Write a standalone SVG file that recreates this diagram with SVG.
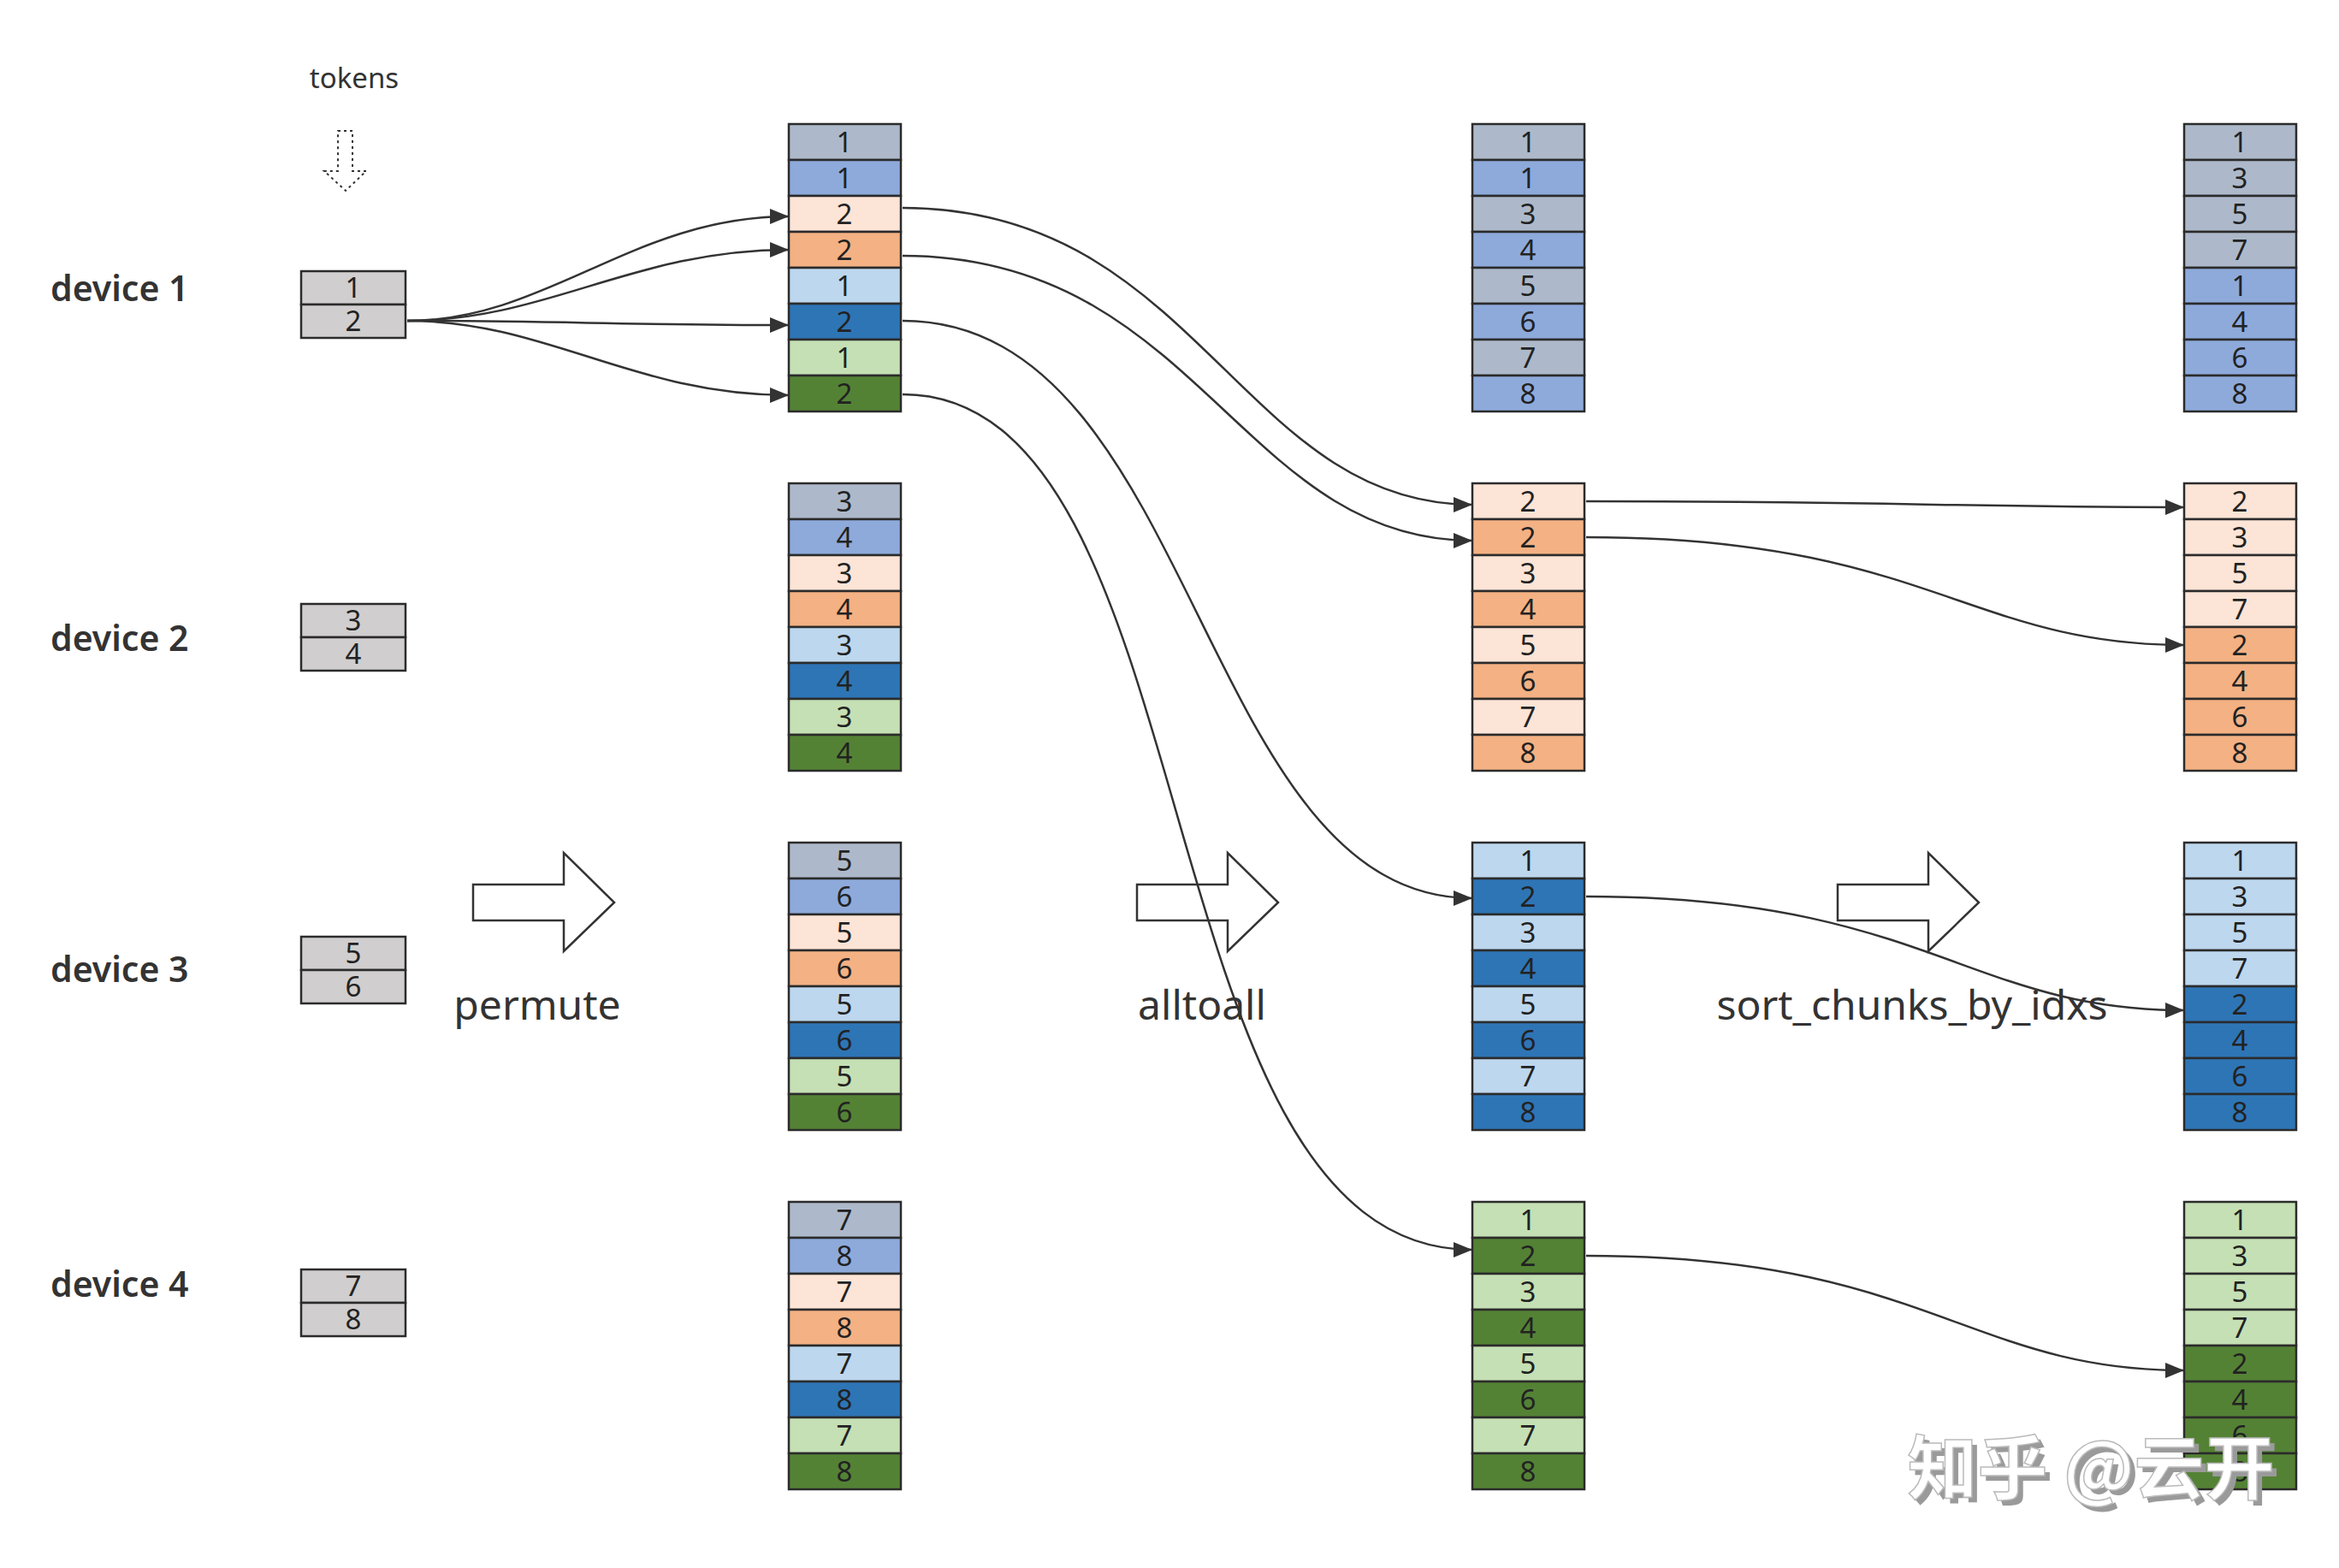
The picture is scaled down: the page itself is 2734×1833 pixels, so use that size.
<svg xmlns="http://www.w3.org/2000/svg" width="2734" height="1833" viewBox="0 0 2734 1833">
<style>
.c rect{stroke:#2b2b2b;stroke-width:2.5}
.c text,.t text{font-family:"Noto Sans","Liberation Sans",sans-serif;font-size:33px;fill:#222;text-anchor:middle}
.gb{fill:#adb9ca}.bl{fill:#8eaadb}.pe{fill:#fce4d6}.or{fill:#f4b183}.lb{fill:#bdd7ee}.db{fill:#2e75b6}.lg{fill:#c5e0b4}.dg{fill:#548235}.gr{fill:#d0cece}
.dev{font-family:"Noto Sans","Liberation Sans",sans-serif;font-size:41px;font-weight:600;fill:#333}
.lab{font-family:"Noto Sans","Liberation Sans",sans-serif;font-size:48px;fill:#333;text-anchor:middle}
.edge{fill:none;stroke:#333;stroke-width:2.5;marker-end:url(#ah)}
.big{fill:#fff;stroke:#333;stroke-width:2.5}
</style>
<defs>
<marker id="ah" markerWidth="22" markerHeight="18" refX="22" refY="9" orient="auto" markerUnits="userSpaceOnUse" viewBox="0 0 22 18"><path d="M0,0 L22,9 L0,18 z" fill="#333"/></marker>
</defs>
<rect width="2734" height="1833" fill="#fff"/>
<text x="414" y="103" font-family="Noto Sans,Liberation Sans,sans-serif" font-size="33" fill="#333" text-anchor="middle">tokens</text>
<polygon points="395,153 412,153 412,200 428,200 404,223 379,200 395,200" fill="none" stroke="#333" stroke-width="2" stroke-dasharray="3,4"/>
<text class="dev" x="59" y="352">device 1</text>
<text class="dev" x="59" y="761">device 2</text>
<text class="dev" x="59" y="1148">device 3</text>
<text class="dev" x="59" y="1516">device 4</text>

<g id="tok1" class="c"><rect class="gr" x="352" y="317" width="122" height="39"/><rect class="gr" x="352" y="356" width="122" height="39"/><text x="413" y="348">1</text><text x="413" y="387">2</text></g>
<g id="tok2" class="c"><rect class="gr" x="352" y="706" width="122" height="39"/><rect class="gr" x="352" y="745" width="122" height="39"/><text x="413" y="737">3</text><text x="413" y="776">4</text></g>
<g id="tok3" class="c"><rect class="gr" x="352" y="1095" width="122" height="39"/><rect class="gr" x="352" y="1134" width="122" height="39"/><text x="413" y="1126">5</text><text x="413" y="1165">6</text></g>
<g id="tok4" class="c"><rect class="gr" x="352" y="1484" width="122" height="39"/><rect class="gr" x="352" y="1523" width="122" height="39"/><text x="413" y="1515">7</text><text x="413" y="1554">8</text></g>

<g id="perm1" class="c" transform="translate(922,145)">
<rect class="gb" y="0" width="131" height="42"/><rect class="bl" y="42" width="131" height="42"/><rect class="pe" y="84" width="131" height="42"/><rect class="or" y="126" width="131" height="42"/><rect class="lb" y="168" width="131" height="42"/><rect class="db" y="210" width="131" height="42"/><rect class="lg" y="252" width="131" height="42"/><rect class="dg" y="294" width="131" height="42"/>
<text x="65" y="33">1</text><text x="65" y="75">1</text><text x="65" y="117">2</text><text x="65" y="159">2</text><text x="65" y="201">1</text><text x="65" y="243">2</text><text x="65" y="285">1</text><text x="65" y="327">2</text></g>
<g id="perm2" class="c" transform="translate(922,565)">
<rect class="gb" y="0" width="131" height="42"/><rect class="bl" y="42" width="131" height="42"/><rect class="pe" y="84" width="131" height="42"/><rect class="or" y="126" width="131" height="42"/><rect class="lb" y="168" width="131" height="42"/><rect class="db" y="210" width="131" height="42"/><rect class="lg" y="252" width="131" height="42"/><rect class="dg" y="294" width="131" height="42"/>
<text x="65" y="33">3</text><text x="65" y="75">4</text><text x="65" y="117">3</text><text x="65" y="159">4</text><text x="65" y="201">3</text><text x="65" y="243">4</text><text x="65" y="285">3</text><text x="65" y="327">4</text></g>
<g id="perm3" class="c" transform="translate(922,985)">
<rect class="gb" y="0" width="131" height="42"/><rect class="bl" y="42" width="131" height="42"/><rect class="pe" y="84" width="131" height="42"/><rect class="or" y="126" width="131" height="42"/><rect class="lb" y="168" width="131" height="42"/><rect class="db" y="210" width="131" height="42"/><rect class="lg" y="252" width="131" height="42"/><rect class="dg" y="294" width="131" height="42"/>
<text x="65" y="33">5</text><text x="65" y="75">6</text><text x="65" y="117">5</text><text x="65" y="159">6</text><text x="65" y="201">5</text><text x="65" y="243">6</text><text x="65" y="285">5</text><text x="65" y="327">6</text></g>
<g id="perm4" class="c" transform="translate(922,1405)">
<rect class="gb" y="0" width="131" height="42"/><rect class="bl" y="42" width="131" height="42"/><rect class="pe" y="84" width="131" height="42"/><rect class="or" y="126" width="131" height="42"/><rect class="lb" y="168" width="131" height="42"/><rect class="db" y="210" width="131" height="42"/><rect class="lg" y="252" width="131" height="42"/><rect class="dg" y="294" width="131" height="42"/>
<text x="65" y="33">7</text><text x="65" y="75">8</text><text x="65" y="117">7</text><text x="65" y="159">8</text><text x="65" y="201">7</text><text x="65" y="243">8</text><text x="65" y="285">7</text><text x="65" y="327">8</text></g>

<g id="a2a1" class="c" transform="translate(1721,145)">
<rect class="gb" y="0" width="131" height="42"/><rect class="bl" y="42" width="131" height="42"/><rect class="gb" y="84" width="131" height="42"/><rect class="bl" y="126" width="131" height="42"/><rect class="gb" y="168" width="131" height="42"/><rect class="bl" y="210" width="131" height="42"/><rect class="gb" y="252" width="131" height="42"/><rect class="bl" y="294" width="131" height="42"/>
<text x="65" y="33">1</text><text x="65" y="75">1</text><text x="65" y="117">3</text><text x="65" y="159">4</text><text x="65" y="201">5</text><text x="65" y="243">6</text><text x="65" y="285">7</text><text x="65" y="327">8</text></g>
<g id="a2a2" class="c" transform="translate(1721,565)">
<rect class="pe" y="0" width="131" height="42"/><rect class="or" y="42" width="131" height="42"/><rect class="pe" y="84" width="131" height="42"/><rect class="or" y="126" width="131" height="42"/><rect class="pe" y="168" width="131" height="42"/><rect class="or" y="210" width="131" height="42"/><rect class="pe" y="252" width="131" height="42"/><rect class="or" y="294" width="131" height="42"/>
<text x="65" y="33">2</text><text x="65" y="75">2</text><text x="65" y="117">3</text><text x="65" y="159">4</text><text x="65" y="201">5</text><text x="65" y="243">6</text><text x="65" y="285">7</text><text x="65" y="327">8</text></g>
<g id="a2a3" class="c" transform="translate(1721,985)">
<rect class="lb" y="0" width="131" height="42"/><rect class="db" y="42" width="131" height="42"/><rect class="lb" y="84" width="131" height="42"/><rect class="db" y="126" width="131" height="42"/><rect class="lb" y="168" width="131" height="42"/><rect class="db" y="210" width="131" height="42"/><rect class="lb" y="252" width="131" height="42"/><rect class="db" y="294" width="131" height="42"/>
<text x="65" y="33">1</text><text x="65" y="75">2</text><text x="65" y="117">3</text><text x="65" y="159">4</text><text x="65" y="201">5</text><text x="65" y="243">6</text><text x="65" y="285">7</text><text x="65" y="327">8</text></g>
<g id="a2a4" class="c" transform="translate(1721,1405)">
<rect class="lg" y="0" width="131" height="42"/><rect class="dg" y="42" width="131" height="42"/><rect class="lg" y="84" width="131" height="42"/><rect class="dg" y="126" width="131" height="42"/><rect class="lg" y="168" width="131" height="42"/><rect class="dg" y="210" width="131" height="42"/><rect class="lg" y="252" width="131" height="42"/><rect class="dg" y="294" width="131" height="42"/>
<text x="65" y="33">1</text><text x="65" y="75">2</text><text x="65" y="117">3</text><text x="65" y="159">4</text><text x="65" y="201">5</text><text x="65" y="243">6</text><text x="65" y="285">7</text><text x="65" y="327">8</text></g>

<g id="sort1" class="c" transform="translate(2553,145)">
<rect class="gb" y="0" width="131" height="42"/><rect class="gb" y="42" width="131" height="42"/><rect class="gb" y="84" width="131" height="42"/><rect class="gb" y="126" width="131" height="42"/><rect class="bl" y="168" width="131" height="42"/><rect class="bl" y="210" width="131" height="42"/><rect class="bl" y="252" width="131" height="42"/><rect class="bl" y="294" width="131" height="42"/>
<text x="65" y="33">1</text><text x="65" y="75">3</text><text x="65" y="117">5</text><text x="65" y="159">7</text><text x="65" y="201">1</text><text x="65" y="243">4</text><text x="65" y="285">6</text><text x="65" y="327">8</text></g>
<g id="sort2" class="c" transform="translate(2553,565)">
<rect class="pe" y="0" width="131" height="42"/><rect class="pe" y="42" width="131" height="42"/><rect class="pe" y="84" width="131" height="42"/><rect class="pe" y="126" width="131" height="42"/><rect class="or" y="168" width="131" height="42"/><rect class="or" y="210" width="131" height="42"/><rect class="or" y="252" width="131" height="42"/><rect class="or" y="294" width="131" height="42"/>
<text x="65" y="33">2</text><text x="65" y="75">3</text><text x="65" y="117">5</text><text x="65" y="159">7</text><text x="65" y="201">2</text><text x="65" y="243">4</text><text x="65" y="285">6</text><text x="65" y="327">8</text></g>
<g id="sort3" class="c" transform="translate(2553,985)">
<rect class="lb" y="0" width="131" height="42"/><rect class="lb" y="42" width="131" height="42"/><rect class="lb" y="84" width="131" height="42"/><rect class="lb" y="126" width="131" height="42"/><rect class="db" y="168" width="131" height="42"/><rect class="db" y="210" width="131" height="42"/><rect class="db" y="252" width="131" height="42"/><rect class="db" y="294" width="131" height="42"/>
<text x="65" y="33">1</text><text x="65" y="75">3</text><text x="65" y="117">5</text><text x="65" y="159">7</text><text x="65" y="201">2</text><text x="65" y="243">4</text><text x="65" y="285">6</text><text x="65" y="327">8</text></g>
<g id="sort4" class="c" transform="translate(2553,1405)">
<rect class="lg" y="0" width="131" height="42"/><rect class="lg" y="42" width="131" height="42"/><rect class="lg" y="84" width="131" height="42"/><rect class="lg" y="126" width="131" height="42"/><rect class="dg" y="168" width="131" height="42"/><rect class="dg" y="210" width="131" height="42"/><rect class="dg" y="252" width="131" height="42"/><rect class="dg" y="294" width="131" height="42"/>
<text x="65" y="33">1</text><text x="65" y="75">3</text><text x="65" y="117">5</text><text x="65" y="159">7</text><text x="65" y="201">2</text><text x="65" y="243">4</text><text x="65" y="285">6</text><text x="65" y="327">8</text></g>

<polygon class="big" points="553,1034 659,1034 659,997 718,1055 659,1112 659,1076 553,1076"/>
<polygon class="big" points="1329,1034 1435,1034 1435,997 1494,1055 1435,1112 1435,1076 1329,1076"/>
<polygon class="big" points="2148,1034 2254,1034 2254,997 2313,1055 2254,1112 2254,1076 2148,1076"/>

<g id="connectors">
<path class="edge" d="M476,375 C640,375 740,253 922,253"/>
<path class="edge" d="M476,375 C640,375 740,292 922,292"/>
<path class="edge" d="M476,375 C640,375 740,380 922,380"/>
<path class="edge" d="M476,375 C640,375 740,462 922,462"/>
<path class="edge" d="M1055,243 C1400,243 1450,590 1721,590"/>
<path class="edge" d="M1055,299 C1400,299 1450,632 1721,632"/>
<path class="edge" d="M1055,375 C1400,375 1400,1050 1721,1050"/>
<path class="edge" d="M1055,461 C1420,461 1330,1461 1721,1461"/>
<path class="edge" d="M1854,586 C2200,586 2300,593 2553,593"/>
<path class="edge" d="M1854,628 C2250,628 2300,754 2553,754"/>
<path class="edge" d="M1854,1048 C2250,1048 2300,1181 2553,1181"/>
<path class="edge" d="M1854,1468 C2250,1468 2300,1602 2553,1602"/>
</g>

<text class="lab" x="628" y="1192">permute</text>
<text class="lab" x="1405" y="1192">alltoall</text>
<text class="lab" x="2235" y="1192">sort_chunks_by_idxs</text>

<g font-family="Noto Sans CJK SC,sans-serif" font-size="82" font-weight="bold" text-anchor="middle">
<text x="2450" y="1752" fill="#9a9a9a">知乎 @云开</text>
<text x="2444" y="1746" fill="#fff" stroke="#bbb" stroke-width="1.5">知乎 @云开</text>
</g>
</svg>
